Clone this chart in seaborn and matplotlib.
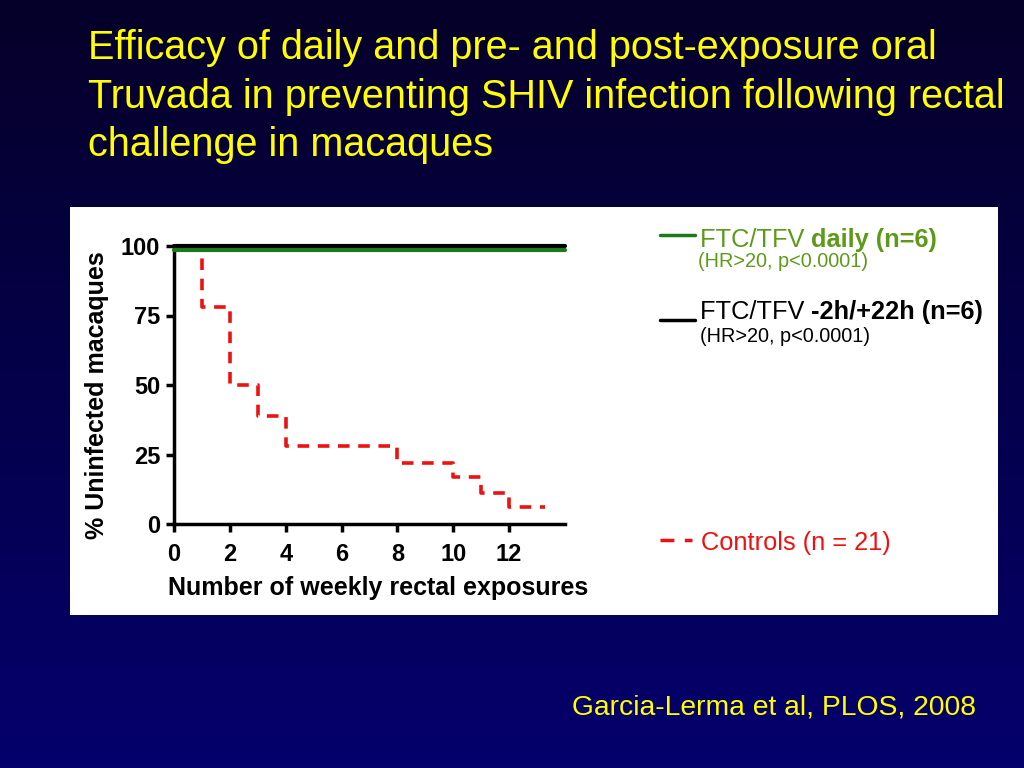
import numpy as np
import pandas as pd
import matplotlib
matplotlib.use("Agg")
import matplotlib.pyplot as plt
import seaborn as sns
from matplotlib.patches import Rectangle

# data
weeks_ctrl = [0, 1, 2, 3, 4, 8, 10, 11, 12, 13.3]
pct_ctrl = [100, 78, 50, 39, 28, 22, 17, 11, 6, 6]
weeks_trt = [0, 14]
pct_daily = [98.5, 98.5]
pct_2h22h = [100, 100]
x_ticks = [0, 2, 4, 6, 8, 10, 12]
y_ticks = [0, 25, 50, 75, 100]

title_lines = ["Efficacy of daily and pre- and post-exposure oral",
               "Truvada in preventing SHIV infection following rectal",
               "challenge in macaques"]

sns.set_theme(style="white")
plt.rcParams['font.family'] = ['Liberation Sans', 'DejaVu Sans']

fig = plt.figure(figsize=(10.24, 7.68), dpi=100)

# navy gradient background
bg = fig.add_axes([0, 0, 1, 1], zorder=-10)
grad = np.linspace(0, 1, 256).reshape(-1, 1)
cmap = matplotlib.colors.LinearSegmentedColormap.from_list("navy", ["#060028", "#04004a", "#04006c"])
bg.imshow(grad, aspect="auto", cmap=cmap, extent=[0, 1, 0, 1])
bg.set_axis_off()

# white panel
fig.patches.append(Rectangle((70 / 1024, 1 - 615 / 768), 928 / 1024, 408 / 768,
                             transform=fig.transFigure, facecolor="white",
                             edgecolor="none", zorder=-5))

for i, line in enumerate(title_lines):
    fig.text(88 / 1024, 1 - (48 + i * 48.5) / 768, line, color="#ffff00",
             fontsize=28.5, va="center", ha="left")

fig.text(976 / 1024, 1 - 708 / 768, "Garcia-Lerma et al, PLOS, 2008",
         color="#ffff00", fontsize=20.3, va="center", ha="right")

ax = fig.add_axes([174 / 1024, 1 - 524 / 768, 391 / 1024, 278 / 768])
ax.set_facecolor("none")

ctrl = pd.DataFrame({"week": weeks_ctrl, "pct": pct_ctrl})
trt = pd.DataFrame({"week": weeks_trt, "daily": pct_daily, "alt": pct_2h22h})

sns.lineplot(data=ctrl, x="week", y="pct", ax=ax, color="#ee1111", lw=2.6,
             drawstyle="steps-post", dashes=(3.2, 2.4), clip_on=False, zorder=1)
sns.lineplot(data=trt, x="week", y="alt", ax=ax, color="black", lw=3, clip_on=False, zorder=3)
sns.lineplot(data=trt, x="week", y="daily", ax=ax, color="#1c7a1c", lw=3, clip_on=False, zorder=4)

ax.set_xlim(0, 14)
ax.set_ylim(0, 100)
ax.set_xticks(x_ticks)
ax.set_yticks(y_ticks)
sns.despine(ax=ax)
for s in ["left", "bottom"]:
    ax.spines[s].set_linewidth(2.5)
    ax.spines[s].set_color("black")
ax.tick_params(axis="both", which="major", direction="out", length=6, width=2.5,
               color="black", labelsize=17, left=True, bottom=True)
ax.tick_params(axis="x", pad=8)
ax.tick_params(axis="y", pad=4)
for lab in ax.get_xticklabels() + ax.get_yticklabels():
    lab.set_fontweight("bold")
    lab.set_color("black")
ax.set_xlabel("Number of weekly rectal exposures", fontsize=18, fontweight="bold",
              color="black")
ax.set_ylabel("% Uninfected macaques", fontsize=18, fontweight="bold",
              color="black")
ax.xaxis.set_label_coords(378 / 391 - 174 / 391, -(588 - 524) / 278, transform=ax.transAxes)
ax.yaxis.set_label_coords((97 - 174) / 391, (524 - 395) / 278, transform=ax.transAxes)
ax.xaxis.label.set_va("center")
ax.yaxis.label.set_va("center")

# legend drawn by hand
leg_green = "#5e9a1a"
t1 = fig.text(700 / 1024, 1 - 240 / 768, "FTC/TFV ", color=leg_green, fontsize=18.3, va="center")
ax.annotate("daily (n=6)", xy=(1, 0), xycoords=t1, va="bottom", ha="left",
            color=leg_green, fontsize=18.3, fontweight="bold", annotation_clip=False)
fig.text(698 / 1024, 1 - 262 / 768, "(HR>20, p<0.0001)", color=leg_green, fontsize=14.3, va="center")
fig.lines.append(plt.Line2D([660 / 1024, 695 / 1024], [1 - 235 / 768] * 2,
                            transform=fig.transFigure, color="#1c7a1c", lw=2.5))

t2 = fig.text(700 / 1024, 1 - 312 / 768, "FTC/TFV ", color="black", fontsize=18.3, va="center")
ax.annotate("-2h/+22h (n=6)", xy=(1, 0), xycoords=t2, va="bottom", ha="left",
            color="black", fontsize=18.3, fontweight="bold", annotation_clip=False)
fig.text(700 / 1024, 1 - 337 / 768, "(HR>20, p<0.0001)", color="black", fontsize=14.3, va="center")
fig.lines.append(plt.Line2D([660 / 1024, 695 / 1024], [1 - 320 / 768] * 2,
                            transform=fig.transFigure, color="black", lw=2.5))

fig.text(701 / 1024, 1 - 543 / 768, "Controls (n = 21)", color="#ee1111", fontsize=18.3, va="center")
fig.lines.append(plt.Line2D([660 / 1024, 692 / 1024], [1 - 540 / 768] * 2,
                            transform=fig.transFigure, color="#ee1111", lw=2.5, dashes=(4, 3)))

fig.savefig("out.png", dpi=100)
